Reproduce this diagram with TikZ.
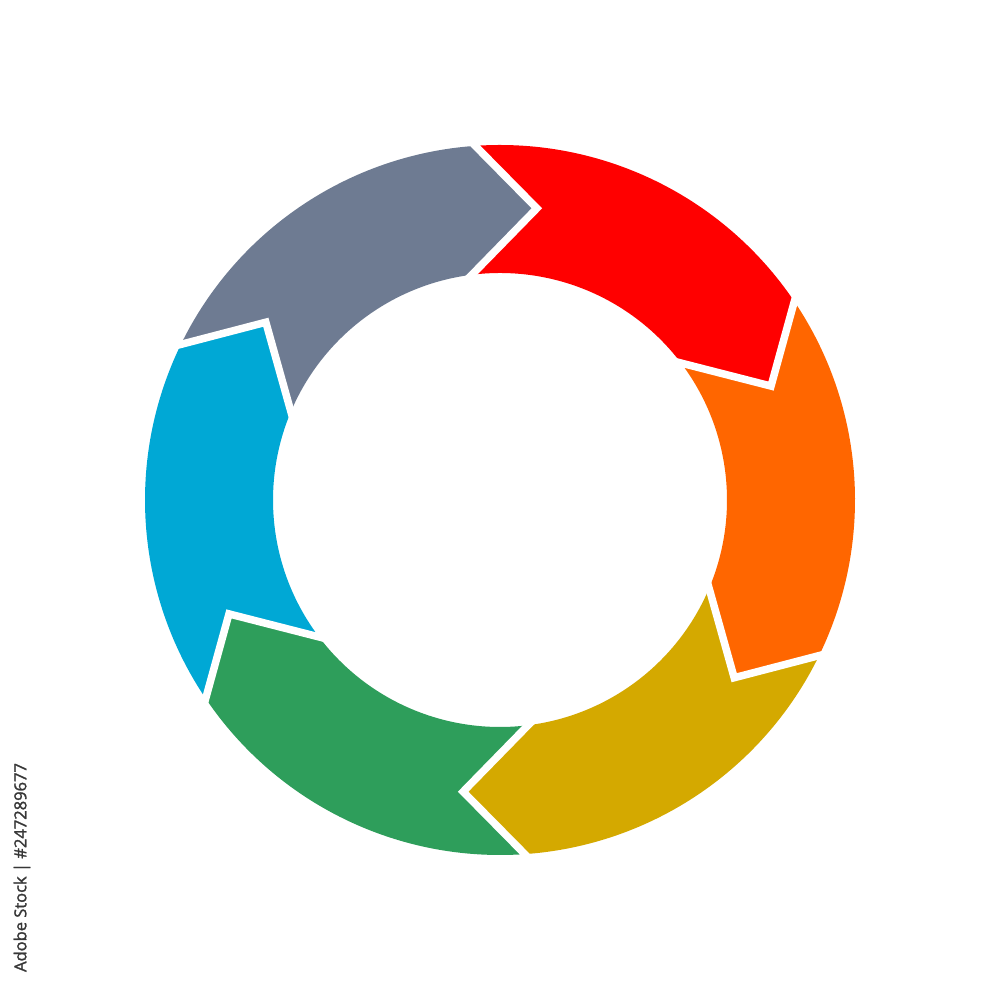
\documentclass[tikz,border=0pt]{standalone}
\usepackage{fontspec}
\usetikzlibrary{calc}
\newfontfamily\wmfont{Open Sans}[FakeBold=1.6]
\definecolor{cgray}{RGB}{110,123,146}
\definecolor{cred}{RGB}{255,0,0}
\definecolor{corange}{RGB}{255,102,0}
\definecolor{cyellow}{RGB}{212,169,0}
\definecolor{cgreen}{RGB}{46,158,91}
\definecolor{cblue}{RGB}{0,168,213}
\definecolor{wmgray}{RGB}{55,55,55}
\tikzset{
  segfill/.style={fill=#1, draw=none},
  separator/.style={draw=white, line width=7.5, line join=miter, line cap=butt},
  watermark/.style={font=\wmfont\fontsize{16.5}{18}\selectfont, text=wmgray, rotate=90, inner sep=0pt}
}
\begin{document}
\begin{tikzpicture}[x=1pt,y=1pt]
\useasboundingbox (0,0) rectangle (1000,1000);
\fill[white] (0,0) rectangle (1000,1000);
\def\Ro{355}
\def\Ri{227}
\def\Rt{294}
\begin{scope}[shift={(500,500)}]
  % segments: tail angle / colour (head = tail - 60)
  \foreach \t/\c in {154/cgray, 94/cred, 34/corange, -26/cyellow, -86/cgreen, 214/cblue}{
    \pgfmathsetmacro{\h}{\t-60}
    \pgfmathsetmacro{\ht}{\h-11.2}
    \pgfmathsetmacro{\hi}{\h+3.1}
    \pgfmathsetmacro{\tt}{\t-11.2}
    \pgfmathsetmacro{\ti}{\t+3.1}
    \fill[segfill=\c] (\t:\Ro) arc[start angle=\t, end angle=\h, radius=\Ro]
      -- (\ht:\Rt) -- (\hi:\Ri)
      arc[start angle=\hi, end angle=\ti, radius=\Ri]
      -- (\tt:\Rt) -- cycle;
  }
  % white separators
  \foreach \t in {94,34,-26,-86,-146,154}{
    \pgfmathsetmacro{\tt}{\t-11.2}
    \pgfmathsetmacro{\ti}{\t+3.1}
    \coordinate (so\t) at (\t:\Ro);
    \coordinate (st\t) at (\tt:\Rt);
    \coordinate (si\t) at (\ti:\Ri);
    \draw[separator] ($(st\t)!1.2!(so\t)$) -- (st\t) -- ($(st\t)!1.2!(si\t)$);
  }
\end{scope}
\node[watermark] (wm) at (22,132.5) {Adobe Stock | \#247289677};
\end{tikzpicture}
\end{document}
